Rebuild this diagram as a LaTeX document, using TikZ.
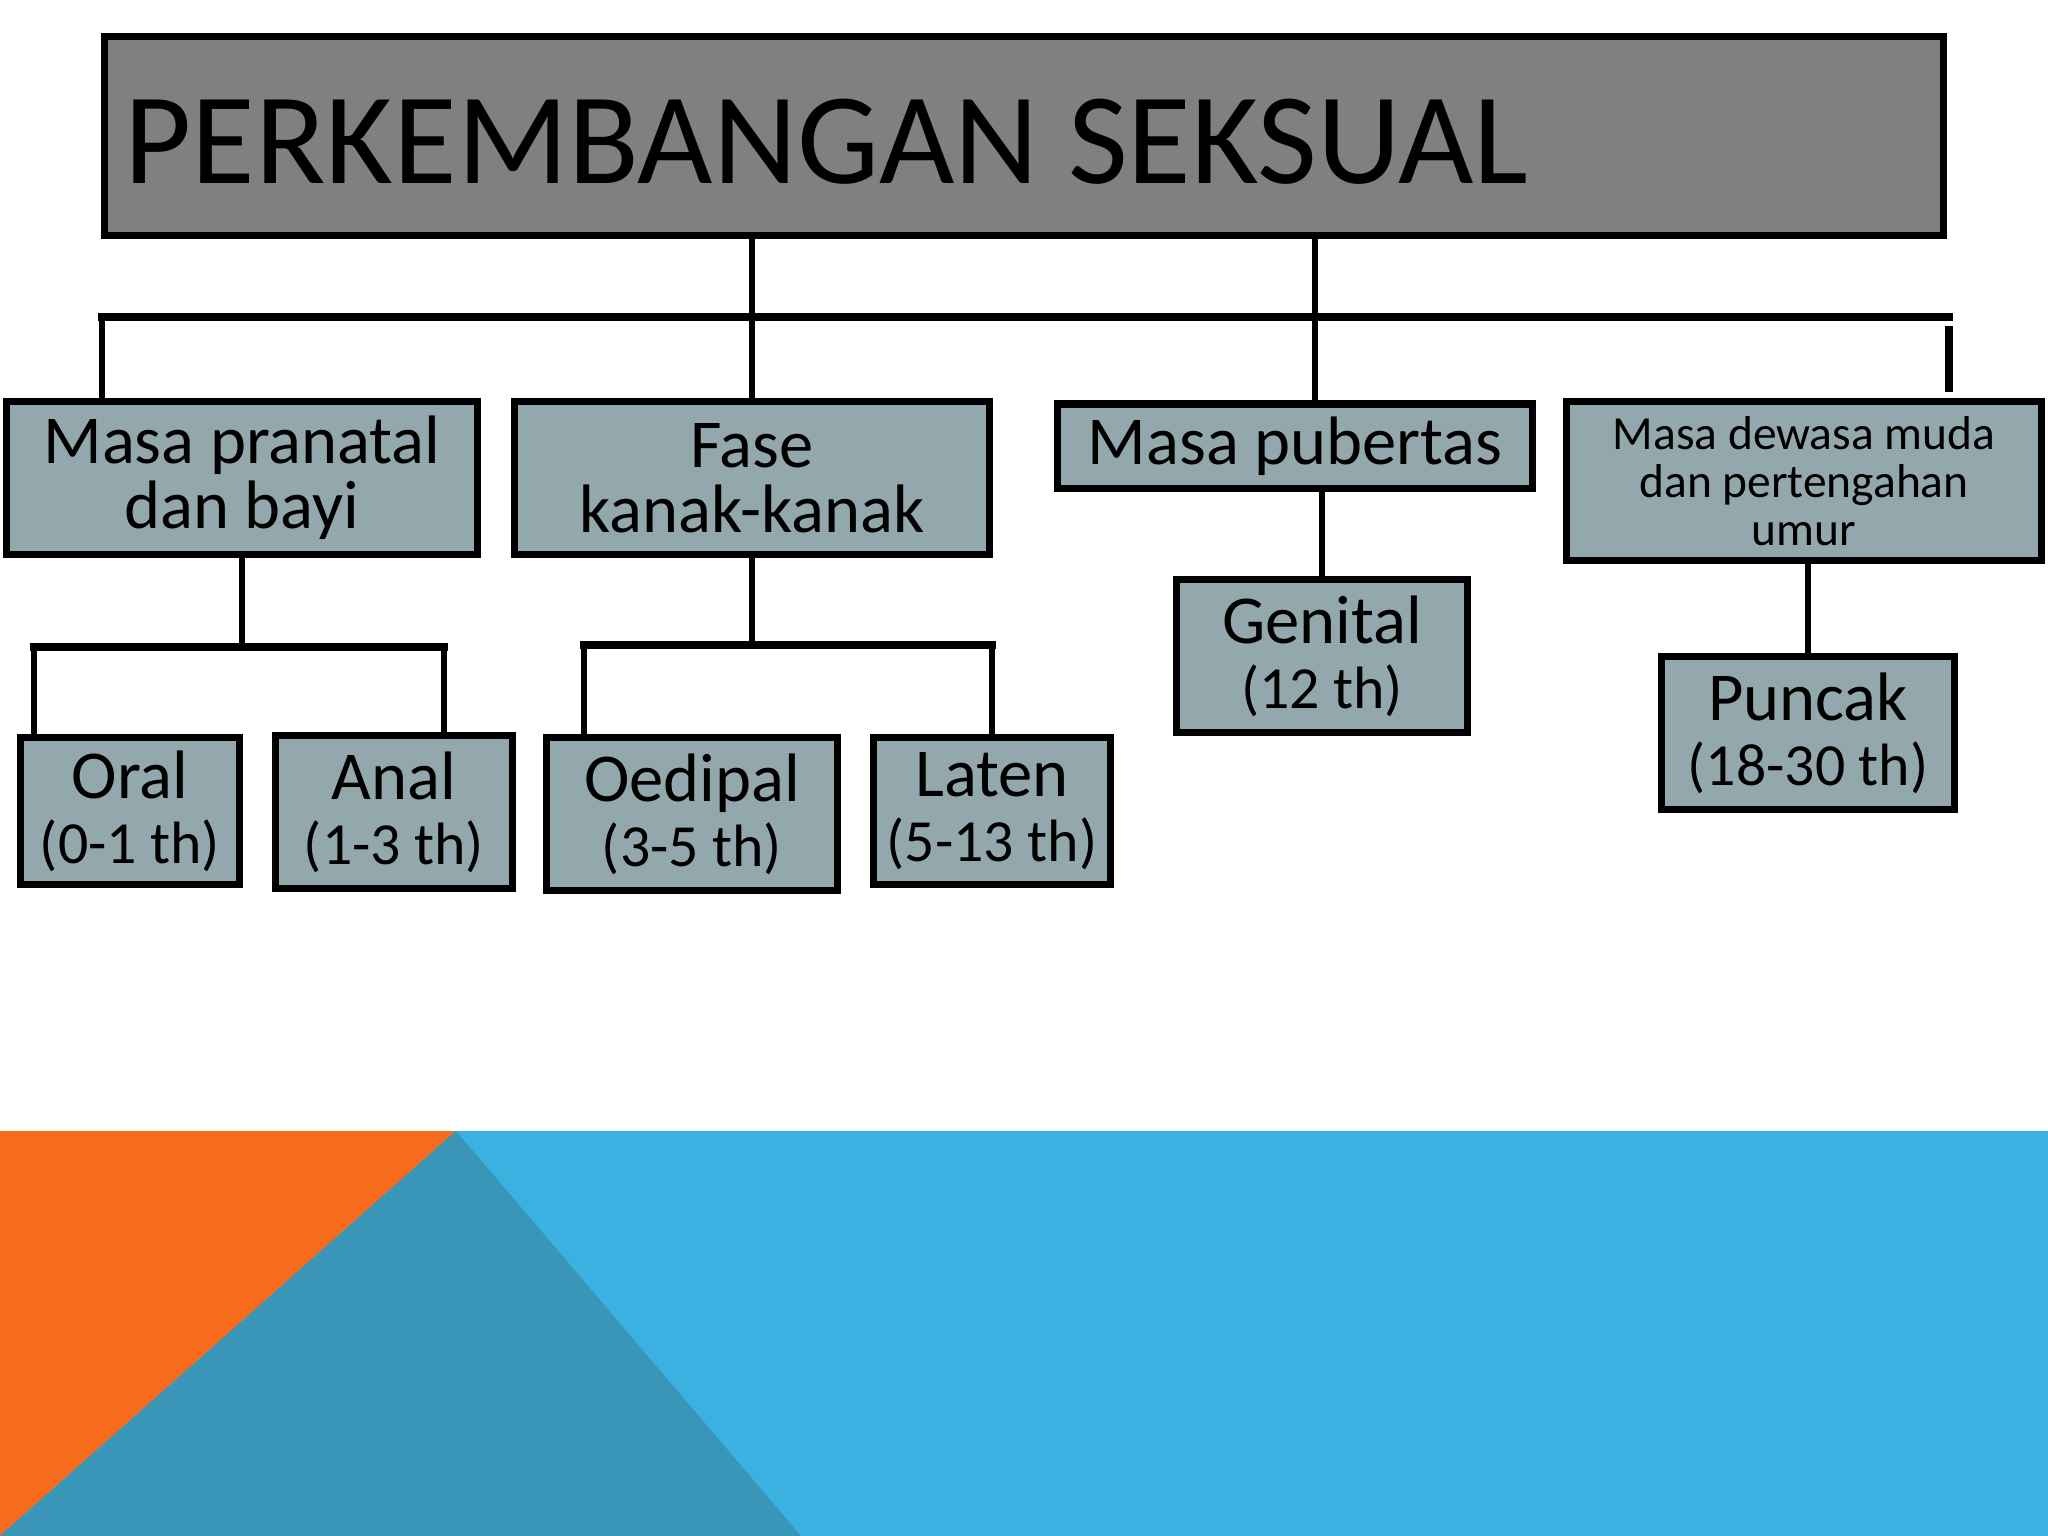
\documentclass[tikz,border=0pt]{standalone}
\usepackage{fontspec}
\setmainfont{Carlito}
\usetikzlibrary{positioning,calc}
\definecolor{boxfill}{HTML}{93A8AC}
\definecolor{headfill}{HTML}{808080}
\definecolor{bandblue}{HTML}{3AB1E0}
\definecolor{bandteal}{HTML}{3A96B8}
\definecolor{bandorange}{HTML}{F76B1C}
\newcommand{\yr}[1]{{\fontsize{17}{19}\selectfont #1}}

\begin{document}
\begin{tikzpicture}[x=0.01cm,y=-0.01cm,
  stage/.style={draw=black,line width=2pt,fill=boxfill,align=center,inner sep=0pt,font=\fontsize{19.5}{18.5}\selectfont},
  link/.style={line width=1.8pt},
  bar/.style={line width=2.2pt,line cap=rect}]
\useasboundingbox (0,0) rectangle (2048,1536);
% bottom band
\fill[bandblue] (0,1131) rectangle (2048,1536);
\fill[bandorange] (0,1131) -- (456,1131) -- (0,1536) -- cycle;
\fill[bandteal] (456,1131) -- (801,1536) -- (0,1536) -- cycle;
% title
\node[draw=black,line width=2pt,fill=headfill,minimum width=18.37cm,minimum height=1.98cm](head) at (1024,136){};
\node[anchor=base west,font=\fontsize{37}{37}\selectfont](headtxt) at (112,183){PERKEMBANGAN SEKSUAL};
% stages
\node[stage,minimum width=4.71cm,minimum height=1.53cm](pranatal) at (242,478){Masa pranatal\\dan bayi};
\node[stage,minimum width=4.74cm,minimum height=1.53cm](fase) at (752,478){Fase\\kanak-kanak};
\node[stage,minimum width=4.74cm,minimum height=0.84cm](pubertas) at (1295,446){Masa pubertas};
\node[stage,minimum width=4.75cm,minimum height=1.59cm,font=\fontsize{13.5}{13.6}\selectfont](dewasa) at (1804,481){Masa dewasa muda\\dan pertengahan\\umur};
\node[stage,minimum width=2.91cm,minimum height=1.52cm](genital) at (1322,656){Genital\\\yr{(12 th)}};
\node[stage,minimum width=2.92cm,minimum height=1.52cm](puncak) at (1808,733){Puncak\\\yr{(18-30 th)}};
\node[stage,minimum width=2.19cm,minimum height=1.47cm](oral) at (130,811){Oral\\\yr{(0-1 th)}};
\node[stage,minimum width=2.36cm,minimum height=1.52cm](anal) at (394,812){Anal\\\yr{(1-3 th)}};
\node[stage,minimum width=2.90cm,minimum height=1.52cm](oedipal) at (692,814){Oedipal\\\yr{(3-5 th)}};
\node[stage,minimum width=2.36cm,minimum height=1.47cm](laten) at (992,811){Laten\\\yr{(5-13 th)}};
% main bar
\coordinate (barL) at (102,317);
\coordinate (barR) at (1949,317);
\coordinate (stubT) at (1949,326);
\coordinate (stubB) at (1949,392);
\coordinate (pt) at ([xshift=0.2cm]pubertas.north);
\draw[bar] (barL) -- (barR);
\draw[link] (barL) -- (barL |- pranatal.north);
\draw[line width=2.2pt] (stubT) -- (stubB);
\draw[link] (fase.north) -- (fase.north |- head.south);
\draw[link] (pt) -- (pt |- head.south);
% sub bars
\coordinate (subAL) at (34,647);
\coordinate (subAR) at (444,647);
\coordinate (subBL) at (584,645);
\coordinate (subBR) at (992,645);
\draw[link] (pranatal.south) -- (pranatal.south |- subAL);
\draw[bar] (subAL) -- (subAR);
\draw[link] (subAL) -- (subAL |- oral.north);
\draw[link] (subAR) -- (subAR |- anal.north);
\draw[link] (fase.south) -- (fase.south |- subBL);
\draw[bar] (subBL) -- (subBR);
\draw[link] (subBL) -- (subBL |- oedipal.north);
\draw[link] (subBR) -- (subBR |- laten.north);
\draw[link] (genital.north) -- (genital.north |- pubertas.south);
\draw[link] (puncak.north) -- (puncak.north |- dewasa.south);
\end{tikzpicture}
\end{document}
